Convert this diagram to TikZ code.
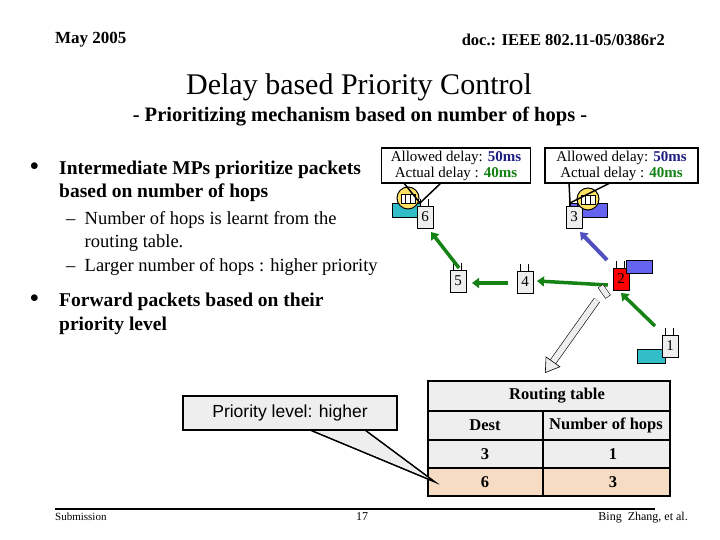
\documentclass[tikz,border=0pt]{standalone}
\usepackage{fontspec}
\setmainfont{Liberation Serif}
\newfontfamily\arial{Liberation Sans}
\usetikzlibrary{arrows.meta}
\definecolor{dblue}{RGB}{30,30,130}
\definecolor{dgreen}{RGB}{20,130,20}
\definecolor{cyanb}{RGB}{50,190,200}
\definecolor{blueb}{RGB}{100,100,240}
\definecolor{peach}{RGB}{245,220,195}
\definecolor{lgray}{RGB}{238,238,238}
\begin{document}
\begin{tikzpicture}[x=1pt,y=-1pt,
  dev/.style={draw,fill=lgray,minimum width=16,minimum height=22,inner sep=0,font=\fontsize{15}{15}\selectfont},
  garrow/.style={draw=dgreen,line width=3.5,-{Triangle[length=7,width=10]}},
  callout/.style={draw,line width=1.5,fill=white},
  cell/.style={font=\bfseries\fontsize{16.5}{20}\selectfont},
  bul/.style={anchor=north west,align=left,inner sep=0}]
\useasboundingbox (0,0) rectangle (720,540);
% header
\node[anchor=west,inner sep=0,font=\bfseries\fontsize{17}{20}\selectfont] (hd) at (55,40) {May 2005};
\node[anchor=east,inner sep=0,font=\bfseries\fontsize{16.5}{20}\selectfont] (doc) at (665,40) {doc.: IEEE 802.11-05/0386r2};
\node[font=\fontsize{30}{34}\selectfont] (title) at (359,87) {Delay based Priority Control};
\node[font=\bfseries\fontsize{20.5}{24}\selectfont] (sub) at (360,117) {- Prioritizing mechanism based on number of hops -};
% bullets
\node[bul,font=\bfseries\fontsize{16}{23}\selectfont] (b1) at (30,163) {$\bullet$};
\node[bul,font=\bfseries\fontsize{19.5}{23}\selectfont] (t1) at (59,161) {Intermediate MPs prioritize packets\\based on number of hops};
\node[bul,font=\fontsize{18.5}{23.5}\selectfont] (t2) at (66,211) {--\enspace Number of hops is learnt from the\\\phantom{--\enspace}routing table.\\--\enspace Larger number of hops : higher priority};
\node[bul,font=\bfseries\fontsize{16}{24}\selectfont] (b2) at (30,295) {$\bullet$};
\node[bul,font=\bfseries\fontsize{19.5}{24}\selectfont] (t3) at (59,293) {Forward packets based on their\\priority level};
% computers
\fill[cyanb,draw=black] (392,203) rectangle (420,217);
\fill[blueb,draw=black] (570,203) rectangle (607,217);
% devices
\foreach \n/\x/\y in {6/425/217,3/574/217,5/458/281,4/525/282,1/670/346}{
  \draw (\x-5,\y-11) -- (\x-5,\y-18) (\x+3,\y-11) -- (\x+3,\y-18);
  \node[dev] (n\n) at (\x,\y) {\n};}
\draw (616,268) -- (616,261) (624,268)--(624,261);
\node[dev,fill=red] (n2) at (621,279) {2};
\fill[blueb,draw=black] (626,260) rectangle (652,273);
\fill[cyanb,draw=black] (637,349) rectangle (665,363);
\node[dev] at (670,346) {1};
% smileys
\foreach \sx/\sy in {408/198,588/199}{
  \fill[yellow!70!orange!60,draw=black,line width=1] (\sx,\sy) circle (11);
  \fill[white,draw=black] (\sx-7,\sy-4) rectangle (\sx+7,\sy+5);
  \draw (\sx-2.5,\sy-4)--(\sx-2.5,\sy+5) (\sx+2.5,\sy-4)--(\sx+2.5,\sy+5);}
% arrows
\coordinate (a5s) at (459,268); \coordinate (a6e) at (431,232);
\draw[garrow] (a5s) -- (a6e);
\coordinate (a4s) at (508,283); \coordinate (a5e) at (472,283);
\draw[garrow] (a4s) -- (a5e);
\coordinate (a2s) at (608,285); \coordinate (a4e) at (537,281);
\draw[garrow] (a2s) -- (a4e);
\coordinate (a1s) at (655,326); \coordinate (a2e) at (621,293);
\draw[garrow] (a1s) -- (a2e);
\coordinate (b2s) at (607,260); \coordinate (b3e) at (580,232);
\draw[draw=blueb!80!black,line width=4,-{Triangle[length=7,width=10]}] (b2s) -- (b3e);
\coordinate (gs) at (597,300); \coordinate (ge) at (545,373);
\draw[double=lgray,double distance=6,line width=0.6,-{Triangle[open,length=14,width=18,fill=lgray]}] (gs) -- (ge);
\draw[fill=lgray,rotate around={-55:(604,291)}] (598,288) rectangle (611,294);
% callouts
\coordinate (c6) at (420,203); \coordinate (c3) at (570,203);
\draw[line width=1.5] (403,182) -- (c6) -- (442,182);
\draw[line width=1.5] (569,182) -- (c3) -- (612,182);
\node[callout,minimum width=149,minimum height=35,inner sep=0,align=center,font=\fontsize{15}{16}\selectfont] (co1) at (456,165.5) {Allowed delay: \textcolor{dblue}{\textbf{50ms}}\\Actual delay : \textcolor{dgreen}{\textbf{40ms}}};
\node[callout,minimum width=153,minimum height=35,inner sep=0,align=center,font=\fontsize{15}{16}\selectfont] (co2) at (621.5,165.5) {Allowed delay: \textcolor{dblue}{\textbf{50ms}}\\Actual delay : \textcolor{dgreen}{\textbf{40ms}}};
% table
\fill[lgray] (428,381) rectangle (670,468);
\fill[peach] (428,468) rectangle (670,496);
\draw[line width=1.8] (428,381) rectangle (670,496);
\draw[line width=1.2] (428,411)--(670,411) (428,440)--(670,440) (428,468)--(670,468) (543,411)--(543,496);
\node[cell] (th) at (557,396) {Routing table};
\node[cell] (c11) at (485,425) {Dest};
\node[cell] (c12) at (606,425) {Number of hops};
\node[cell] (c21) at (485,454) {3};
\node[cell] (c22) at (613,454) {1};
\node[cell] (c31) at (485,482) {6};
\node[cell] (c32) at (613,482) {3};
% priority callout
\coordinate (pt) at (435,482);
\fill[lgray,draw=black,line width=1.2] (310,430) -- (pt) -- (365,430) -- cycle;
\node[draw,line width=1.2,fill=lgray,minimum width=214,minimum height=34,font=\arial\fontsize{17.5}{20}\selectfont] (pl) at (290,413) {Priority level: higher};
\draw[line width=1.2] (310,430) -- (pt) -- (365,430);
% footer
\draw[line width=1.2] (55,509) -- (655,509);
\node[anchor=west,inner sep=0,font=\fontsize{11}{13}\selectfont] (sm) at (55,517) {Submission};
\node[font=\fontsize{12}{13}\selectfont] (pg) at (362,517) {17};
\node[anchor=east,inner sep=0,font=\fontsize{12}{13}\selectfont] (au) at (688,518) {Bing\ \ Zhang, et al.};
\end{tikzpicture}
\end{document}
